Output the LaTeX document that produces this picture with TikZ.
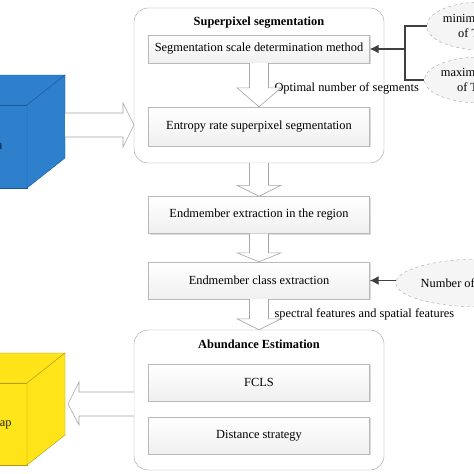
\documentclass[tikz,border=0pt]{standalone}
\usepackage{fontspec}
\setmainfont{Liberation Serif}
\usepackage{xcolor}
\usepackage{tikz}
\usetikzlibrary{calc, shapes.geometric, arrows.meta, shadows}

\definecolor{cubeblue}{RGB}{46,128,205}
\definecolor{cubeblueedge}{RGB}{30,85,150}
\definecolor{cubeyellow}{RGB}{255,228,25}
\definecolor{cubeyellowedge}{RGB}{175,155,20}

% hollow block arrow pointing down, from node #1 to node #2, head height #3
\newcommand{\blockdown}[3]{%
  \draw[blockarrow] ([xshift=-9.5pt]#1.south) -- ([xshift=-9.5pt,yshift=#3]#2.north)
    -- ([xshift=-22pt,yshift=#3]#2.north) -- (#2.north)
    -- ([xshift=22pt,yshift=#3]#2.north) -- ([xshift=9.5pt,yshift=#3]#2.north)
    -- ([xshift=9.5pt]#1.south);}

\begin{document}
\begin{tikzpicture}[x=1pt, y=-1pt, font=\fontsize{12.4}{14.5}\selectfont,
    group/.style={draw=gray!75, rounded corners=14pt, minimum width=250pt},
    grouptitle/.style={font=\fontsize{12.4}{14.5}\selectfont\bfseries},
    procbox/.style={draw=gray!55, top color=white, bottom color=gray!12, minimum width=221pt,
      drop shadow={shadow xshift=1pt, shadow yshift=-1pt, fill=gray!55}},
    param/.style={ellipse, draw=gray!70, dashed, fill=gray!8, inner sep=0pt, align=center},
    link/.style={draw=black!75, line width=1.3pt},
    tip/.style={-{Latex[length=9pt, width=9pt]}},
    blockarrow/.style={draw=gray!70, fill=white, line width=0.6pt}]

    % frame
    \useasboundingbox (0,0) rectangle (474,474);
    \fill[white] (0,0) rectangle (474,474);
    \clip (0,0) rectangle (474,474);

    % input cube
    \draw[cubeblueedge, fill=cubeblue] (-60,105) rectangle (27,188);
    \draw[cubeblueedge, fill=cubeblue] (-60,105) -- (-22,75) -- (65,75) -- (27,105) -- cycle;
    \draw[cubeblueedge, fill=cubeblue] (27,105) -- (65,75) -- (65,158) -- (27,188) -- cycle;
    \node[anchor=east, text=cubeblueedge!60!black, font=\fontsize{14}{16}\selectfont\bfseries] (incube) at (6,145) {data};

    % output cube
    \draw[cubeyellowedge, fill=cubeyellow] (-60,383) rectangle (27,465);
    \draw[cubeyellowedge, fill=cubeyellow] (-60,383) -- (-22,353) -- (65,353) -- (27,383) -- cycle;
    \draw[cubeyellowedge, fill=cubeyellow] (27,383) -- (65,353) -- (65,435) -- (27,465) -- cycle;
    \node[anchor=east, text=black!85] (outcube) at (15,424) {Abundance map};

    % superpixel segmentation
    \node[group, minimum height=155pt] (sp) at (259,85.5) {};
    \node[grouptitle] (sptitle) at (259,23) {Superpixel segmentation};
    \node[procbox, minimum height=28pt] (scale) at (259,49) {Segmentation scale determination method};
    \node[procbox, minimum height=39pt] (ers) at (259,126.5) {Entropy rate superpixel segmentation};
    \node[anchor=west] (optnum) at (271,88) {Optimal number of segments};

    % endmembers
    \node[procbox, minimum height=37pt] (emr) at (259,215) {Endmember extraction in the region};
    \node[procbox, minimum height=37pt] (emc) at (259,280.5) {Endmember class extraction};
    \node[anchor=west] (feat) at (271,314) {spectral features and spatial features};

    % abundance estimation
    \node[group, minimum height=140pt] (ab) at (259,400) {};
    \node[grouptitle] (abtitle) at (259,344) {Abundance Estimation};
    \node[procbox, minimum height=37pt] (fcls) at (259,382.5) {FCLS};
    \node[procbox, minimum height=37pt] (dist) at (259,435.5) {Distance strategy};

    % parameters
    \node[param, minimum width=106pt, minimum height=48pt] (pmin) at (482,26) {minimum value\\of T\phantom{value}};
    \node[param, minimum width=108pt, minimum height=46pt] (pmax) at (481,80) {maximum value\\of T\phantom{value}};
    \node[param, minimum width=158pt, minimum height=48pt] (pnum) at (481,283) {Number of endmembers};

    % links
    \coordinate (fork) at (405,0);
    \draw[link] (pmin.west) -| (fork |- pmax.west) -- (pmax.west);
    \draw[link, tip] (fork |- scale.east) -- (scale.east);
    \draw[link, tip] (emc.east -| pnum.west) -- (emc.east);

    % block arrows
    \blockdown{scale}{ers}{19pt}
    \blockdown{sp}{emr}{11pt}
    \blockdown{emr}{emc}{9pt}
    \blockdown{emc}{ab}{11pt}
    \draw[blockarrow] (65,113) -- (123,113) -- (123,103) -- (134,125) -- (123,147) -- (123,137) -- (65,137);
    \draw[blockarrow] (134,392) -- (79,392) -- (79,382) -- (68,404) -- (79,425) -- (79,416) -- (134,416);
\end{tikzpicture}
\end{document}
